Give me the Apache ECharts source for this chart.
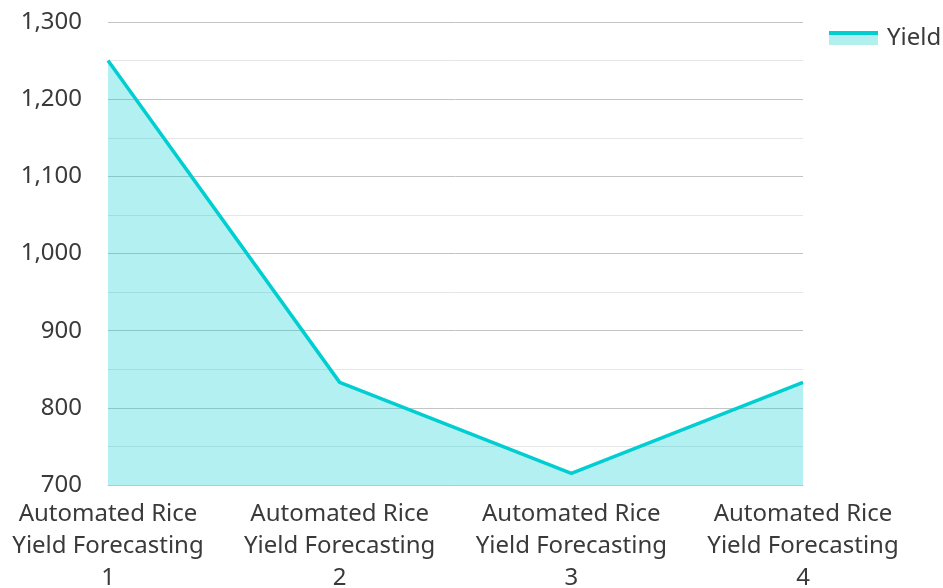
<!DOCTYPE html>
<html>
<head>
<meta charset="utf-8">
<script src="https://cdn.jsdelivr.net/npm/echarts@6/dist/echarts.min.js"></script>
<style>
  html, body { margin: 0; padding: 0; background: #fff; }
  #chart { width: 943px; height: 588px; }
</style>
</head>
<body>
<div id="chart"></div>
<script>
// Categories and yield values
const categories = [
  'Automated Rice Yield Forecasting 1',
  'Automated Rice Yield Forecasting 2',
  'Automated Rice Yield Forecasting 3',
  'Automated Rice Yield Forecasting 4'
];
const yieldValues = [1250, 833, 715, 833];
const seriesName = 'Yield';

const LINE_COLOR = '#00CED1';
const TEXT_COLOR = '#3a3a3a';
const FONT = '"Noto Sans", "Open Sans", sans-serif';

const chart = echarts.init(document.getElementById('chart'));

chart.setOption({
  animation: false,
  textStyle: { fontFamily: FONT },
  grid: {
    left: 108, right: 140, top: 22, bottom: 103,
    containLabel: false,
    outerBoundsMode: 'none'
  },
  legend: {
    data: [seriesName],
    left: 824,
    top: 21,
    padding: 5,
    itemWidth: 49,
    itemHeight: 14,
    itemGap: 8,
    icon: 'rect',
    itemStyle: {
      color: new echarts.graphic.LinearGradient(0, 0, 0, 1, [
        { offset: 0, color: LINE_COLOR },
        { offset: 0.3, color: LINE_COLOR },
        { offset: 0.3, color: '#b2f0f0' },
        { offset: 1, color: '#b2f0f0' }
      ])
    },
    textStyle: { fontSize: 24, color: TEXT_COLOR, fontFamily: FONT, padding: [0, 0, 0, 4] }
  },
  xAxis: {
    type: 'category',
    data: categories,
    boundaryGap: false,
    axisLine: { show: true, lineStyle: { color: '#c4c4c4', width: 1 } },
    axisTick: { show: false },
    axisLabel: {
      fontSize: 24,
      color: TEXT_COLOR,
      lineHeight: 32,
      margin: 13,
      interval: 0,
      fontFamily: FONT,
      formatter: function (v) {
        const m = v.match(/^(Automated Rice) (Yield Forecasting) (.*)$/);
        return m ? m[1] + '\n' + m[2] + '\n' + m[3] : v;
      }
    }
  },
  yAxis: {
    type: 'value',
    min: 700,
    max: 1300,
    interval: 100,
    axisLine: { show: false },
    axisTick: { show: false },
    axisLabel: {
      fontSize: 24,
      color: TEXT_COLOR,
      margin: 26,
      fontFamily: FONT,
      formatter: function (v) { return v.toLocaleString('en-US'); }
    },
    splitLine: { show: true, lineStyle: { color: '#c4c4c4', width: 1 } },
    minorTick: { show: false, splitNumber: 2 },
    minorSplitLine: { show: true, lineStyle: { color: '#e6e6e6', width: 1 } }
  },
  series: [{
    name: seriesName,
    type: 'line',
    data: yieldValues,
    showSymbol: false,
    symbol: 'none',
    lineStyle: { color: LINE_COLOR, width: 3.5 },
    itemStyle: { color: LINE_COLOR },
    areaStyle: { color: LINE_COLOR, opacity: 0.3 }
  }]
});
</script>
</body>
</html>
